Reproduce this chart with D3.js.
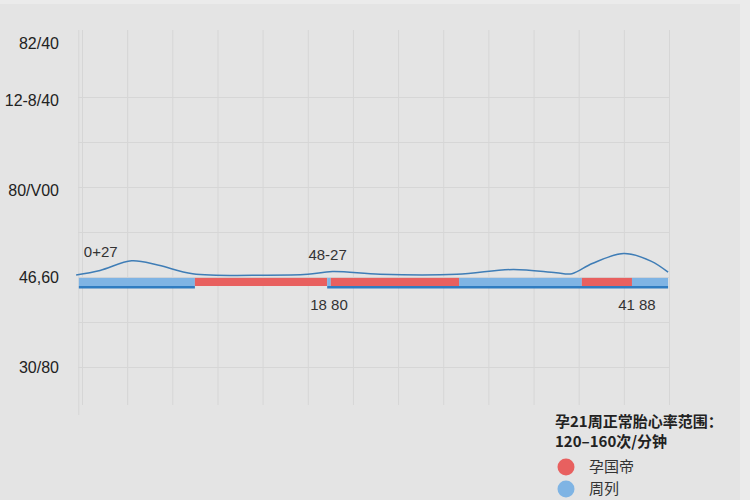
<!DOCTYPE html>
<html>
<head>
<meta charset="utf-8">
<script src="https://cdn.jsdelivr.net/npm/d3@7"></script>
<style>
  body { margin: 0; background: #ebebeb; }
  svg { display: block; }
</style>
</head>
<body>
<div id="chart"></div>
<script>
const w = 750;
const h = 500;

// y axis: tick positions (bpm-ish units) and the labels printed next to them
const yTickValues = [190, 171, 141, 112, 82];
const yTickLabels = ["82/40", "12-8/40", "80/V00", "46,60", "30/80"];
const yGridValues = [172, 157, 142, 127, 112, 97, 82];

// x axis: time, grid every 10
const xGridValues = [0, 10, 20, 30, 40, 50, 60, 70, 80, 90, 100, 110, 120, 130];

// heart-rate trace
const traceX = [-1.3, 4, 11, 17, 24.5, 41, 50, 55.5, 66, 83, 95.5, 105, 108.5, 113, 120, 126, 129.8];
const traceY = [112.7, 114.2, 117.4, 115.9, 113.1, 112.6, 112.9, 113.8, 112.9, 112.9, 114.5, 113.4, 113.1, 116.5, 119.8, 117.3, 113.6];

// coloured strip under the trace
const segStart = [-0.7, 25, 54.3, 55.1, 83.5, 110.7, 121.8];
const segEnd   = [25, 54.3, 55.1, 83.5, 110.7, 121.8, 129.8];
const segType  = ["normal", "alert", "normal", "alert", "normal", "alert", "normal"];
const baseStart = [-0.7, 54.3];
const baseEnd   = [25, 129.8];

// text marks on the chart
const noteText = ["0+27", "48-27", "18 80", "41 88"];
const noteX = [0.4, 54.4, 54.7, 122.9];
const noteY = [120.3, 119.5, 102.8, 102.8];
const noteAnchor = ["start", "middle", "middle", "middle"];

// legend
const legendTitle = ["孕21周正常胎心率范围：", "120–160次/分钟"];
const legendLabels = ["孕国帝", "周列"];
const legendKeys = ["alert", "normal"];

const colors = { normal: "#7fb4e4", alert: "#e8605f" };

const svg = d3.select("#chart")
  .append("svg")
  .attr("width", w)
  .attr("height", h);

// backdrop panel
svg.append("rect").attr("width", w).attr("height", h).attr("fill", "#ebebeb");
svg.append("rect")
  .attr("x", 0).attr("y", 4)
  .attr("width", 740).attr("height", h - 4)
  .attr("fill", "#e4e4e4");

const x = d3.scaleLinear().domain([0, 130]).range([82, 669]);
const y = d3.scaleLinear().domain([60, 190]).range([433, 43]);

// vertical grid
svg.append("g")
  .attr("transform", "translate(0,30)")
  .call(d3.axisBottom(x).tickValues(xGridValues).tickSize(375).tickFormat(""))
  .call(g => g.select(".domain").remove())
  .call(g => g.selectAll("line").attr("stroke", "#d6d6d6"));

// left edge line
svg.append("line")
  .attr("x1", x(-0.7)).attr("x2", x(-0.7))
  .attr("y1", 30).attr("y2", 415)
  .attr("stroke", "#d6d6d6");

// horizontal grid
svg.append("g")
  .attr("transform", "translate(78,0)")
  .call(d3.axisRight(y).tickValues(yGridValues).tickSize(591).tickFormat(""))
  .call(g => g.select(".domain").remove())
  .call(g => g.selectAll("line").attr("stroke", "#d6d6d6"));

// y labels
svg.append("g")
  .attr("transform", "translate(62,0)")
  .call(d3.axisLeft(y).tickValues(yTickValues).tickSize(0)
    .tickFormat((d, i) => yTickLabels[i]))
  .call(g => g.select(".domain").remove())
  .call(g => g.selectAll("text")
    .attr("font-family", "'Liberation Sans', Arial, sans-serif")
    .attr("font-size", 16)
    .attr("fill", "#222"));

// strip
const segs = segStart.map((s, i) => ({ s: s, e: segEnd[i], t: segType[i] }));
svg.selectAll("rect.seg")
  .data(segs)
  .enter()
  .append("rect")
  .attr("class", "seg")
  .attr("x", d => x(d.s))
  .attr("width", d => x(d.e) - x(d.s))
  .attr("y", y(111.7))
  .attr("height", y(109) - y(111.7))
  .attr("fill", d => colors[d.t]);

svg.selectAll("line.base")
  .data(baseStart)
  .enter()
  .append("line")
  .attr("class", "base")
  .attr("x1", d => x(d))
  .attr("x2", (d, i) => x(baseEnd[i]))
  .attr("y1", y(108.6))
  .attr("y2", y(108.6))
  .attr("stroke", "#2f7cc1")
  .attr("stroke-width", 2.5);

// trace
const trace = traceX.map((v, i) => [v, traceY[i]]);
svg.append("path")
  .datum(trace)
  .attr("fill", "none")
  .attr("stroke", "#3f7db6")
  .attr("stroke-width", 1.5)
  .attr("d", d3.line()
    .x(d => x(d[0]))
    .y(d => y(d[1]))
    .curve(d3.curveCatmullRom.alpha(0.5)));

// notes
svg.selectAll("text.note")
  .data(noteText)
  .enter()
  .append("text")
  .attr("class", "note")
  .attr("x", (d, i) => x(noteX[i]))
  .attr("y", (d, i) => y(noteY[i]))
  .attr("dy", "0.35em")
  .attr("text-anchor", (d, i) => noteAnchor[i])
  .attr("font-family", "'Liberation Sans', Arial, sans-serif")
  .attr("font-size", 15)
  .attr("fill", "#333")
  .text(d => d);

// legend
const cjk = "'Noto Sans CJK SC', 'Noto Sans', sans-serif";
svg.selectAll("text.ltitle")
  .data(legendTitle)
  .enter()
  .append("text")
  .attr("class", "ltitle")
  .attr("x", 555)
  .attr("y", (d, i) => 427 + i * 20)
  .attr("font-family", cjk)
  .attr("font-size", 15)
  .attr("font-weight", "bold")
  .attr("fill", "#222")
  .text(d => d);

const items = svg.selectAll("g.litem")
  .data(legendLabels)
  .enter()
  .append("g")
  .attr("class", "litem")
  .attr("transform", (d, i) => `translate(566,${467 + i * 22})`);

items.append("circle")
  .attr("r", 8.5)
  .attr("fill", (d, i) => colors[legendKeys[i]]);

items.append("text")
  .attr("x", 23)
  .attr("dy", "0.36em")
  .attr("font-family", cjk)
  .attr("font-size", 15)
  .attr("fill", "#333")
  .text(d => d);
</script>
</body>
</html>
